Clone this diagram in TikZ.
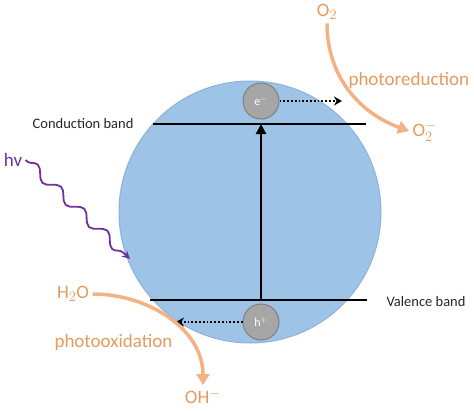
\documentclass[tikz,border=0pt]{standalone}
\usepackage{fontspec}
\setmainfont{Carlito}
\definecolor{pcBlue}{HTML}{9DC3E6}
\definecolor{pcEdge}{HTML}{8DB3DB}
\definecolor{pcOrange}{HTML}{F4B183}
\definecolor{pcOrangeText}{HTML}{E59A5E}
\definecolor{pcPurple}{HTML}{7030A0}
\definecolor{pcGrey}{HTML}{A6A6A6}
\definecolor{pcGreyEdge}{HTML}{7F7F7F}
\definecolor{pcText}{HTML}{262626}
\usetikzlibrary{calc,positioning,arrows.meta,decorations.pathmorphing}

\tikzset{
  carrier/.style={circle, fill=pcGrey, draw=pcGreyEdge, line width=1pt, minimum size=36pt, inner sep=0pt, text=white, font=\fontsize{12}{13}\selectfont},
  bandline/.style={line width=2pt, black},
  bandlabel/.style={text=pcText, font=\fontsize{14.5}{16}\selectfont},
  chemlabel/.style={text=pcOrangeText, font=\fontsize{19}{21}\selectfont},
  reaction/.style={pcOrange, line width=3.5pt, -{Triangle[length=11pt,width=13pt]}},
  hop/.style={black, line width=1.8pt, dotted, -{Stealth[length=8pt,width=9pt]}}
}

\begin{document}
\begin{tikzpicture}[x=1pt,y=-1pt]
  \useasboundingbox (0,0) rectangle (474,410);
  % semiconductor particle
  \node[circle, fill=pcBlue, draw=pcEdge, line width=1pt, minimum size=262pt, inner sep=0pt] (grain) at (250,212) {};

  % bands
  \coordinate (cbL) at (153,124);
  \coordinate (cbR) at (366,124);
  \coordinate (vbL) at (150,300);
  \coordinate (vbR) at (367,300);
  \draw[bandline] (cbL) -- (cbR);
  \draw[bandline] (vbL) -- (vbR);
  \node[bandlabel, anchor=east] (cbText) at (137,124) {Conduction band};
  \node[bandlabel, anchor=west] (vbText) at (383,302) {Valence band};

  % excitation
  \coordinate (exBot) at (261,300);
  \coordinate (exTop) at (261,124);
  \draw[line width=2.6pt, -{Triangle[length=10pt,width=10pt]}] (exBot) -- (exTop);

  % charge carriers
  \node[carrier] (elec) at (261,101) {e$^{-}$};
  \node[carrier] (hole) at (261,322) {h$^{+}$};
  \coordinate (elecEnd) at (342,101);
  \coordinate (holeEnd) at (176,322);
  \draw[hop] (elec.east) -- (elecEnd);
  \draw[hop] (hole.west) -- (holeEnd);

  % light
  \node[text=pcPurple, font=\fontsize{19}{21}\selectfont] (hv) at (13,160) {hv};
  \coordinate (hvEnd) at (130,259);
  \draw[pcPurple, line width=1.8pt, -{Stealth[length=8pt,width=8pt]},
        decorate, decoration={snake, amplitude=5pt, segment length=32pt, pre length=2pt, post length=8pt}]
        (hv.east) -- (hvEnd);

  % reduction
  \node[chemlabel] (oxy) at (327,12) {O$_2$};
  \node[chemlabel, anchor=west] (superox) at (409,131) {O$_2^{-}$};
  \draw[reaction] (oxy.south) to[out=-90, in=160] (superox.west);
  \node[chemlabel, anchor=west] (redText) at (345,80) {photoreduction};

  % oxidation
  \node[chemlabel] (water) at (73,294) {H$_2$O};
  \node[chemlabel] (hydrox) at (203,396) {OH$^{-}$};
  \draw[reaction] (water.east) to[out=0, in=90] (hydrox.north);
  \node[chemlabel, anchor=west] (oxText) at (51,342) {photooxidation};
\end{tikzpicture}
\end{document}
